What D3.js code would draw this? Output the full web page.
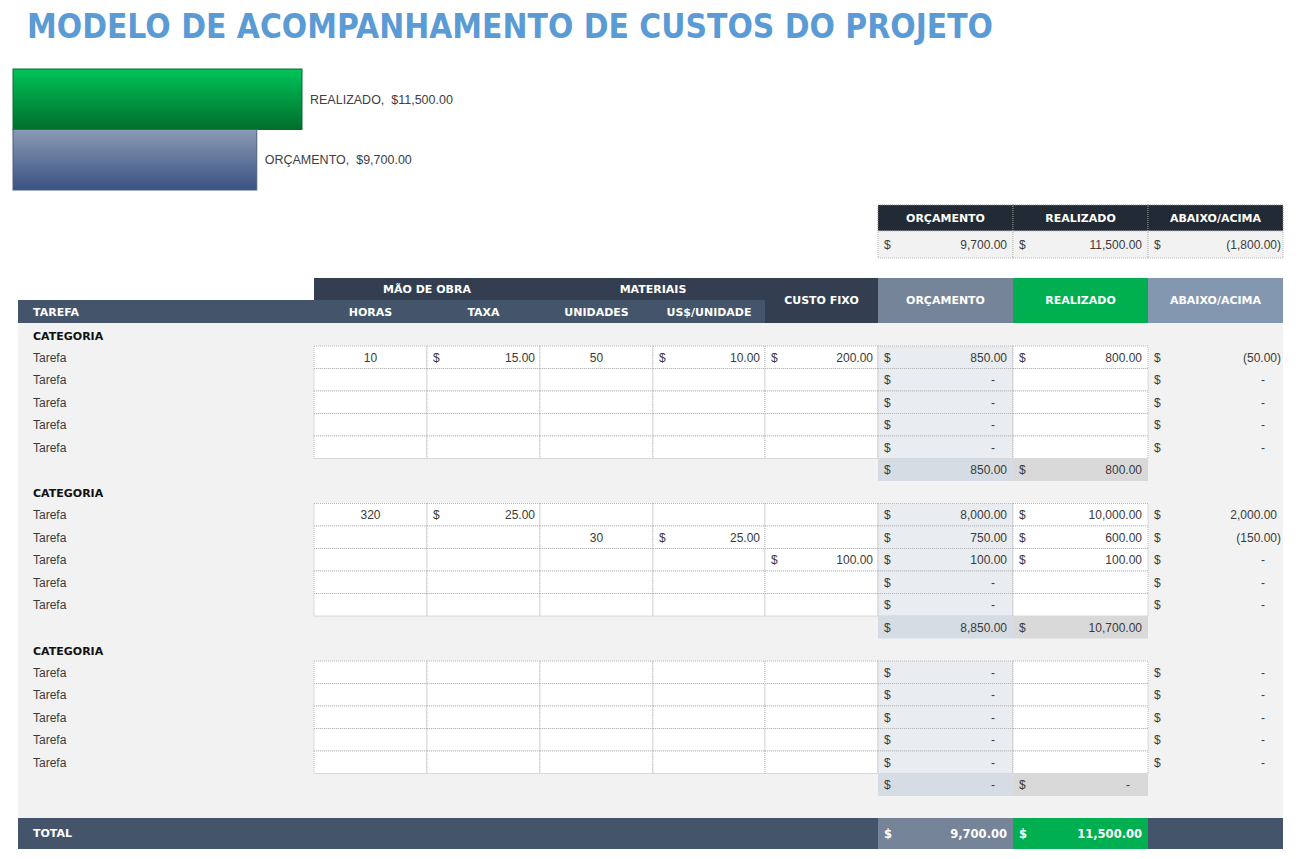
<!DOCTYPE html>
<html>
<head>
<meta charset="utf-8">
<script src="https://cdn.jsdelivr.net/npm/d3@7"></script>
<style>
  body { margin: 0; background: #fff; }
  text { white-space: pre; }
</style>
</head>
<body>
<svg id="chart" width="1300" height="859"></svg>
<script>
let titulo = 'MODELO DE ACOMPANHAMENTO DE CUSTOS DO PROJETO'

// bar chart
let barLabels = ['REALIZADO', 'ORÇAMENTO']
let barValues = [11500, 9700]

// summary table
let resumoLabels = ['ORÇAMENTO', 'REALIZADO', 'ABAIXO/ACIMA']
let resumoValores = [9700, 11500, -1800]

// main table
let categorias = ['CATEGORIA', 'CATEGORIA', 'CATEGORIA']
let tarefas = ['Tarefa', 'Tarefa', 'Tarefa', 'Tarefa', 'Tarefa']
let horas        = [[10, null, null, null, null], [320, null, null, null, null], [null, null, null, null, null]]
let taxa         = [[15, null, null, null, null], [25, null, null, null, null], [null, null, null, null, null]]
let unidades     = [[50, null, null, null, null], [null, 30, null, null, null], [null, null, null, null, null]]
let precoUnidade = [[10, null, null, null, null], [null, 25, null, null, null], [null, null, null, null, null]]
let custoFixo    = [[200, null, null, null, null], [null, null, 100, null, null], [null, null, null, null, null]]
let orcamento    = [[850, 0, 0, 0, 0], [8000, 750, 100, 0, 0], [0, 0, 0, 0, 0]]
let realizado    = [[800, null, null, null, null], [10000, 600, 100, null, null], [null, null, null, null, null]]
let diferenca    = [[-50, 0, 0, 0, 0], [2000, -150, 0, 0, 0], [0, 0, 0, 0, 0]]
let subtotalOrcamento = [850, 8850, 0]
let subtotalRealizado = [800, 10700, 0]
let totalLabel = 'TOTAL'
let totalOrcamento = 9700
let totalRealizado = 11500

let colKeys = ['tarefa', 'horas', 'taxa', 'unidades', 'preco', 'fixo', 'orc', 'real', 'dif']
let colHeaders = ['TAREFA', 'HORAS', 'TAXA', 'UNIDADES', 'US$/UNIDADE', 'CUSTO FIXO', 'ORÇAMENTO', 'REALIZADO', 'ABAIXO/ACIMA']
let grupoHeaders = ['MÃO DE OBRA', 'MATERIAIS']

let svg = d3.select('#chart')
let fmt = d3.format(',.2f')
let textColor = '#3a3a3a'
let bodyFont = "'Liberation Sans', Arial, sans-serif"
let headFont = "'DejaVu Sans', sans-serif"

// title
svg.append('text')
    .attr('x', 27)
    .attr('y', 38)
    .attr('font-family', headFont)
    .attr('font-weight', 'bold')
    .attr('font-size', 33)
    .attr('fill', '#5b9bd5')
    .attr('textLength', 966)
    .attr('lengthAdjust', 'spacingAndGlyphs')
    .text(titulo)

// ---------- bar chart ----------
let defs = svg.append('defs')
let grads = [['gradReal', '#00c458', '#006e2c'], ['gradOrc', '#8a9bb4', '#3a5283']]
grads.forEach(g => {
    let lg = defs.append('linearGradient').attr('id', g[0])
        .attr('x1', 0).attr('y1', 0).attr('x2', 0).attr('y2', 1)
    lg.append('stop').attr('offset', '0%').attr('stop-color', g[1])
    lg.append('stop').attr('offset', '100%').attr('stop-color', g[2])
})

let xBar = d3.scaleLinear().domain([0, d3.max(barValues)]).range([0, 289])
let yBar = d3.scaleBand().domain(barLabels).range([69, 190])

let barG = svg.append('g')
barG.selectAll('rect')
    .data(barLabels)
    .enter()
    .append('rect')
    .attr('x', 13)
    .attr('y', d => yBar(d))
    .attr('width', (d, i) => xBar(barValues[i]))
    .attr('height', yBar.bandwidth())
    .attr('fill', (d, i) => i === 0 ? 'url(#gradReal)' : 'url(#gradOrc)')
    .attr('stroke', (d, i) => i === 0 ? '#0a6b33' : '#4b5d7e')
    .attr('stroke-width', 1)

barG.selectAll('text')
    .data(barLabels)
    .enter()
    .append('text')
    .attr('x', (d, i) => 13 + xBar(barValues[i]) + 8)
    .attr('y', d => yBar(d) + yBar.bandwidth() / 2)
    .attr('dy', '0.35em')
    .attr('font-family', bodyFont)
    .attr('font-size', 12.5)
    .attr('fill', '#404040')
    .text((d, i) => d + ',  $' + fmt(barValues[i]))

// helper: accounting format cell
let money = (g, x0, x1, yc, v, opts) => {
    opts = opts || {}
    let color = opts.color || textColor
    let weight = opts.bold ? 'bold' : 'normal'
    let font = opts.bold ? headFont : bodyFont
    let size = opts.bold ? 11.5 : 12
    g.append('text')
        .attr('x', x0 + 6).attr('y', yc).attr('dy', '0.35em')
        .attr('font-family', font).attr('font-size', size).attr('font-weight', weight)
        .attr('fill', color)
        .text('$')
    let txt, xr
    if (v === 0) { txt = '-'; xr = x1 - 18 }
    else if (v < 0) { txt = '(' + fmt(-v) + ')'; xr = x1 - 2 }
    else { txt = fmt(v); xr = x1 - (opts.input ? 5 : 6) }
    g.append('text')
        .attr('x', xr).attr('y', yc).attr('dy', '0.35em')
        .attr('text-anchor', 'end')
        .attr('font-family', font).attr('font-size', size).attr('font-weight', weight)
        .attr('fill', color)
        .text(txt)
}

let dotted = sel => sel.attr('stroke', '#b8b8b8').attr('stroke-width', 1).attr('stroke-dasharray', '1,1')

// ---------- summary table ----------
let xRes = d3.scaleBand().domain(resumoLabels).range([878, 1283])
let resG = svg.append('g')
resG.selectAll('rect.h')
    .data(resumoLabels)
    .enter()
    .append('rect')
    .attr('x', d => xRes(d)).attr('y', 205)
    .attr('width', xRes.bandwidth()).attr('height', 26)
    .attr('fill', '#222a35')
    .call(dotted).attr('stroke', '#8a8a8a')
resG.selectAll('text.h')
    .data(resumoLabels)
    .enter()
    .append('text')
    .attr('x', d => xRes(d) + xRes.bandwidth() / 2)
    .attr('y', 218).attr('dy', '0.35em')
    .attr('text-anchor', 'middle')
    .attr('font-family', headFont).attr('font-weight', 'bold').attr('font-size', 11)
    .attr('fill', '#fff')
    .text(d => d)
resG.selectAll('rect.v')
    .data(resumoLabels)
    .enter()
    .append('rect')
    .attr('x', d => xRes(d)).attr('y', 231)
    .attr('width', xRes.bandwidth()).attr('height', 27)
    .attr('fill', '#f2f2f2')
    .call(dotted)
resumoLabels.forEach((d, i) => money(resG, xRes(d), xRes(d) + xRes.bandwidth(), 244.5, resumoValores[i]))

// ---------- main table ----------
let colLeft = [18, 314, 427, 540, 653, 765, 878, 1013, 1148, 1283]
let xCol = d3.scaleOrdinal().domain(colKeys).range(colLeft.slice(0, 9))
let wCol = d3.scaleOrdinal().domain(colKeys).range(colKeys.map((k, i) => colLeft[i + 1] - colLeft[i]))
let rowY = d3.scaleLinear().domain([0, 1]).range([323.5, 346])
let rowH = rowY(1) - rowY(0)

let tab = svg.append('g')

// body background
tab.append('rect')
    .attr('x', xCol('tarefa')).attr('y', 323)
    .attr('width', colLeft[9] - colLeft[0]).attr('height', 818 - 323)
    .attr('fill', '#f2f2f2')

// header rows
tab.append('rect').attr('x', xCol('tarefa')).attr('y', 300)
    .attr('width', xCol('fixo') - xCol('tarefa')).attr('height', 23).attr('fill', '#44546a')
tab.append('rect').attr('x', xCol('horas')).attr('y', 278)
    .attr('width', xCol('fixo') - xCol('horas')).attr('height', 22).attr('fill', '#333f50')
let tallHead = [['fixo', '#333f50'], ['orc', '#768499'], ['real', '#00b050'], ['dif', '#8497b0']]
tab.selectAll('rect.tall')
    .data(tallHead)
    .enter()
    .append('rect')
    .attr('x', d => xCol(d[0])).attr('y', 278)
    .attr('width', d => wCol(d[0])).attr('height', 45)
    .attr('fill', d => d[1])

let headText = (x, y, t, anchor) => tab.append('text')
    .attr('x', x).attr('y', y).attr('dy', '0.35em')
    .attr('text-anchor', anchor || 'middle')
    .attr('font-family', headFont).attr('font-weight', 'bold').attr('font-size', 11)
    .attr('fill', '#fff')
    .text(t)

headText(xCol('tarefa') + 15, 312, colHeaders[0], 'start')
colKeys.slice(1, 5).forEach((k, i) => headText(xCol(k) + wCol(k) / 2, 312, colHeaders[i + 1]))
colKeys.slice(5).forEach((k, i) => headText(xCol(k) + wCol(k) / 2, 300.5, colHeaders[i + 5]))
headText(xCol('taxa'), 289.5, grupoHeaders[0])
headText(xCol('preco'), 289.5, grupoHeaders[1])

// categories
let inputCols = ['horas', 'taxa', 'unidades', 'preco', 'fixo']
categorias.forEach((cat, c) => {
    let base = c * 7
    tab.append('text')
        .attr('x', xCol('tarefa') + 15).attr('y', rowY(base) + rowH / 2 + 1).attr('dy', '0.35em')
        .attr('font-family', headFont).attr('font-weight', 'bold').attr('font-size', 11)
        .attr('fill', '#111')
        .text(cat)

    tarefas.forEach((t, r) => {
        let y0 = rowY(base + 1 + r)
        let yc = y0 + rowH / 2 + 0.5
        tab.append('text')
            .attr('x', xCol('tarefa') + 15).attr('y', yc).attr('dy', '0.35em')
            .attr('font-family', bodyFont).attr('font-size', 12)
            .attr('fill', textColor)
            .text(t)

        inputCols.concat(['orc', 'real']).forEach(k => {
            tab.append('rect')
                .attr('x', xCol(k)).attr('y', y0)
                .attr('width', wCol(k)).attr('height', rowH)
                .attr('fill', k === 'orc' ? '#e9ecf1' : '#fff')
                .call(dotted)
        })

        if (horas[c][r] !== null) {
            tab.append('text')
                .attr('x', xCol('horas') + wCol('horas') / 2).attr('y', yc).attr('dy', '0.35em')
                .attr('text-anchor', 'middle')
                .attr('font-family', bodyFont).attr('font-size', 12).attr('fill', textColor)
                .text(horas[c][r])
        }
        if (unidades[c][r] !== null) {
            tab.append('text')
                .attr('x', xCol('unidades') + wCol('unidades') / 2).attr('y', yc).attr('dy', '0.35em')
                .attr('text-anchor', 'middle')
                .attr('font-family', bodyFont).attr('font-size', 12).attr('fill', textColor)
                .text(unidades[c][r])
        }
        if (taxa[c][r] !== null) money(tab, xCol('taxa'), xCol('taxa') + wCol('taxa'), yc, taxa[c][r], { input: true })
        if (precoUnidade[c][r] !== null) money(tab, xCol('preco'), xCol('preco') + wCol('preco'), yc, precoUnidade[c][r], { input: true })
        if (custoFixo[c][r] !== null) money(tab, xCol('fixo'), xCol('fixo') + wCol('fixo'), yc, custoFixo[c][r], { input: true })

        money(tab, xCol('orc'), xCol('orc') + wCol('orc'), yc, orcamento[c][r])
        if (realizado[c][r] !== null) money(tab, xCol('real'), xCol('real') + wCol('real'), yc, realizado[c][r])
        money(tab, xCol('dif'), xCol('dif') + wCol('dif'), yc, diferenca[c][r])
    })

    // subtotal
    let ys = rowY(base + 6)
    tab.append('rect').attr('x', xCol('orc')).attr('y', ys)
        .attr('width', wCol('orc')).attr('height', rowH).attr('fill', '#d6dce4')
    tab.append('rect').attr('x', xCol('real')).attr('y', ys)
        .attr('width', wCol('real')).attr('height', rowH).attr('fill', '#d9d9d9')
    money(tab, xCol('orc'), xCol('orc') + wCol('orc'), ys + rowH / 2 + 0.5, subtotalOrcamento[c])
    money(tab, xCol('real'), xCol('real') + wCol('real'), ys + rowH / 2 + 0.5, subtotalRealizado[c])
})

// total row
let yT = 818, hT = 31
tab.append('rect').attr('x', xCol('tarefa')).attr('y', yT)
    .attr('width', colLeft[9] - colLeft[0]).attr('height', hT).attr('fill', '#44546a')
tab.append('rect').attr('x', xCol('orc')).attr('y', yT)
    .attr('width', wCol('orc')).attr('height', hT).attr('fill', '#768499')
tab.append('rect').attr('x', xCol('real')).attr('y', yT)
    .attr('width', wCol('real')).attr('height', hT).attr('fill', '#00b050')
headText(xCol('tarefa') + 15, yT + hT / 2, totalLabel, 'start')
money(tab, xCol('orc'), xCol('orc') + wCol('orc'), yT + hT / 2, totalOrcamento, { bold: true, color: '#fff' })
money(tab, xCol('real'), xCol('real') + wCol('real'), yT + hT / 2, totalRealizado, { bold: true, color: '#fff' })
</script>
</body>
</html>
